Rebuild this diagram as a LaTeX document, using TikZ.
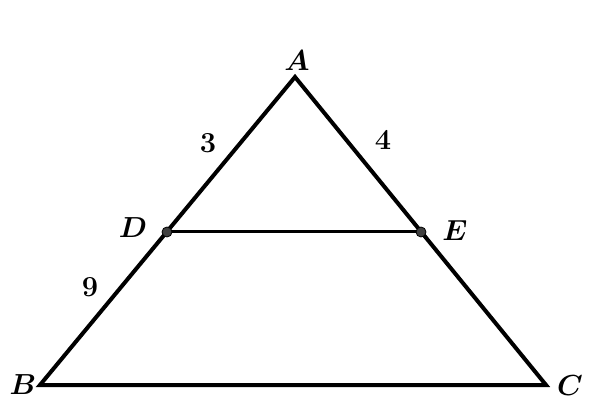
\RequirePackage{fix-cm}
\documentclass[tikz,border=0pt]{standalone}
\usepackage{amsmath}
\usepackage{bm}
\usetikzlibrary{positioning}

\begin{document}
\begin{tikzpicture}[x=1pt, y=-1pt, font=\fontsize{29}{35}\selectfont,
  side/.style={line width=4pt, line join=miter},
  pt/.style={circle, fill=black!75, draw=black, line width=0.8pt, inner sep=0pt, minimum size=10pt}]
  \useasboundingbox (0,0) rectangle (610,419);
  \coordinate (A) at (295,77);
  \coordinate (B) at (40,385);
  \coordinate (C) at (546,385);
  \coordinate (D) at (167,232);
  \coordinate (E) at (421,232);
  \draw[side] (A) -- (B) -- (C) -- cycle;
  \draw[line width=3pt] (D) -- (E);
  \node[pt] (d) at (D) {};
  \node[pt] (e) at (E) {};
  % vertex labels
  \node (lA) at (297,61) {$\bm{A}$};
  \node (lB) at (23,385) {$\bm{B}$};
  \node (lC) at (570,386) {$\bm{C}$};
  \node (lD) at (133,228) {$\bm{D}$};
  \node (lE) at (455,231) {$\bm{E}$};
  % lengths
  \node (l3) at (208,143) {$\mathbf{3}$};
  \node (l4) at (383,140) {$\mathbf{4}$};
  \node (l9) at (90,287) {$\mathbf{9}$};
\end{tikzpicture}
\end{document}
